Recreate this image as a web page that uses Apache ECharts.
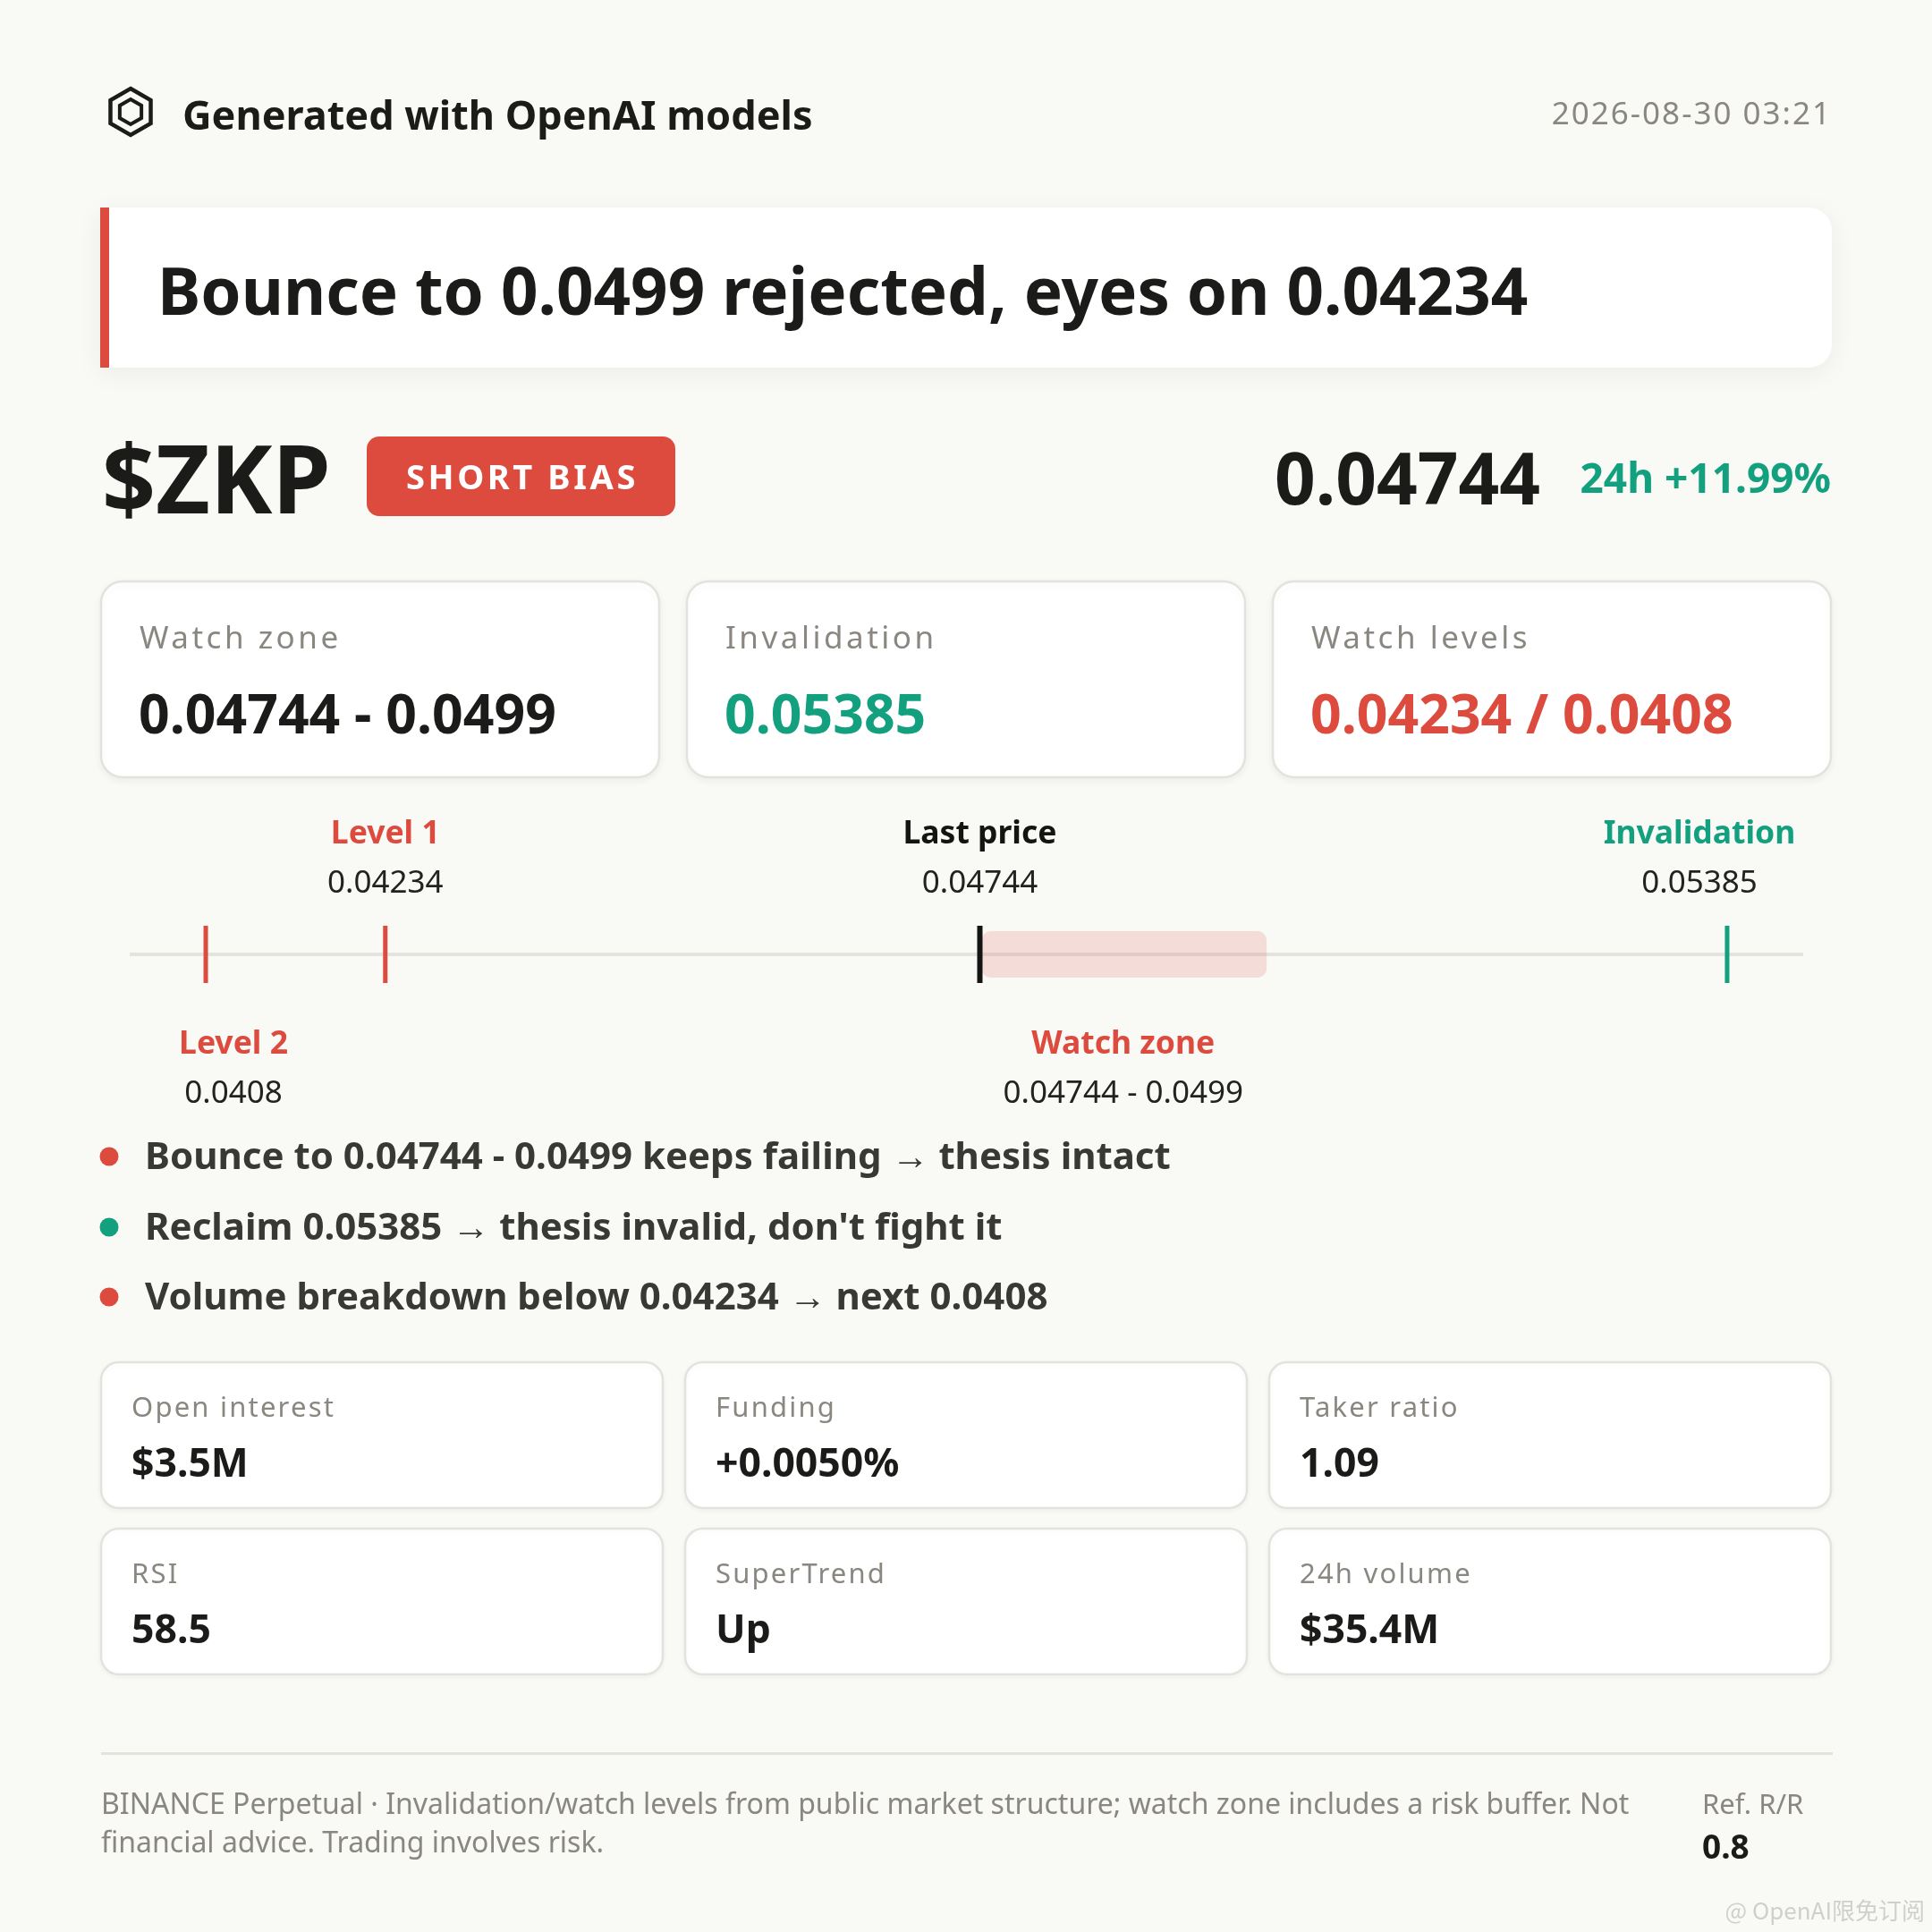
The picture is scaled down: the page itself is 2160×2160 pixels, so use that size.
<!DOCTYPE html>
<html><head><meta charset="utf-8">
<script src="https://cdn.jsdelivr.net/npm/echarts@6/dist/echarts.min.js"></script>
<style>html,body{margin:0;padding:0;background:#f9f9f6}#c{width:2160px;height:2160px}</style>
</head><body><div id="c"></div>
<script>
// ---------- data ----------
const titleText = 'Generated with OpenAI models';
const timestamp = '2026-08-30 03:21';
const headline = 'Bounce to 0.0499 rejected, eyes on 0.04234';
const ticker = '$ZKP';
const biasText = 'SHORT BIAS';
const lastPriceText = '0.04744';
const changeText = '24h +11.99%';
const cardLabels = ['Watch zone', 'Invalidation', 'Watch levels'];
const cardValues = ['0.04744 - 0.0499', '0.05385', '0.04234 / 0.0408'];
const cardKinds = ['neutral', 'bull', 'bear'];
const levelNames = ['Level 2', 'Level 1', 'Last price', 'Invalidation'];
const levelValues = [0.0408, 0.04234, 0.04744, 0.05385];
const levelKinds = ['bear', 'bear', 'neutral', 'bull'];
const watchZone = [0.04744, 0.0499];
const watchZoneName = 'Watch zone';
const bulletTexts = [
  'Bounce to 0.04744 - 0.0499 keeps failing \u2192 thesis intact',
  'Reclaim 0.05385 \u2192 thesis invalid, don\'t fight it',
  'Volume breakdown below 0.04234 \u2192 next 0.0408'
];
const bulletKinds = ['bear', 'bull', 'bear'];
const statLabels = ['Open interest', 'Funding', 'Taker ratio', 'RSI', 'SuperTrend', '24h volume'];
const statValues = ['$3.5M', '+0.0050%', '1.09', '58.5', 'Up', '$35.4M'];
const footerLines = [
  'BINANCE Perpetual \u00b7 Invalidation/watch levels from public market structure; watch zone includes a risk buffer. Not',
  'financial advice. Trading involves risk.'
];
const rrLabel = 'Ref. R/R';
const rrValue = '0.8';
const watermark = '@ OpenAI\u9650\u514d\u8ba2\u9605';

// ---------- letter spacing support for canvas text (marker family "LSPnn" = nn/10 px) ----------
(function () {
  const proto = CanvasRenderingContext2D.prototype;
  const orig = proto.fillText;
  proto.fillText = function (t, x, y, mw) {
    if ('letterSpacing' in this) {
      const m = /LSP(\d+)/.exec(this.font || '');
      this.letterSpacing = m ? (parseInt(m[1], 10) / 10) + 'px' : '0px';
    }
    return mw === undefined ? orig.call(this, t, x, y) : orig.call(this, t, x, y, mw);
  };
})();

// ---------- style ----------
const FONT = '"Noto Sans", "Open Sans", sans-serif';
const RED = '#dc4b3e', GREEN = '#12a07e', DARK = '#1b1b19', GRAY = '#8a8780';
const kindColor = k => k === 'bear' ? RED : (k === 'bull' ? GREEN : DARK);
const DY = 0.07; // cap-centre correction

function fam(ls) {
  return ls ? '"Noto Sans", "LSP' + Math.round(ls * 10) + '", sans-serif' : FONT;
}
function txt(x, y, text, size, weight, fill, align, ls, family) {
  return {
    type: 'text', x: x, y: y + size * DY, silent: true,
    style: {
      text: text, fill: fill,
      font: (weight || 'normal') + ' ' + size + 'px ' + (family || fam(ls)),
      align: align || 'left', verticalAlign: 'middle',
      textAlign: align || 'left', textVerticalAlign: 'middle'
    }
  };
}

const g = [];
function hex(cx, cy, r) {
  const pts = [];
  for (let i = 0; i < 6; i++) {
    const a = Math.PI / 180 * (60 * i - 90);
    pts.push([cx + r * Math.cos(a), cy + r * Math.sin(a)]);
  }
  return pts;
}
g.push({ type: 'polygon', shape: { points: hex(146, 125, 26) }, style: { fill: 'none', stroke: DARK, lineWidth: 4.5 } });
g.push({ type: 'polygon', shape: { points: hex(146, 125, 14) }, style: { fill: 'none', stroke: DARK, lineWidth: 4 } });
g.push(txt(204, 129, titleText, 45, 'bold', DARK));
g.push(txt(2048, 127, timestamp, 35, 'normal', GRAY, 'right', 2));

// headline box
g.push({ type: 'rect', shape: { x: 112, y: 232, width: 1936, height: 179, r: [0, 26, 26, 0] },
  style: { fill: '#ffffff', shadowBlur: 30, shadowColor: 'rgba(0,0,0,0.06)', shadowOffsetY: 6 } });
g.push({ type: 'rect', shape: { x: 112, y: 232, width: 10, height: 179 }, style: { fill: RED } });
g.push(txt(176, 326, headline, 72.7, 'bold', DARK));

// ticker row
g.push(txt(114, 537, ticker, 105, 'bold', DARK));
g.push({ type: 'rect', shape: { x: 410, y: 488, width: 345, height: 89, r: 14 }, style: { fill: RED } });
g.push(txt(584, 534, biasText, 38, 'bold', '#ffffff', 'center', 3.6));
g.push(txt(1722, 536, lastPriceText, 80, 'bold', DARK, 'right'));
g.push(txt(2047, 535, changeText, 46, 'bold', GREEN, 'right'));

// top cards
const cardX = [113, 768, 1423];
cardLabels.forEach((lab, i) => {
  g.push({ type: 'rect', shape: { x: cardX[i], y: 650, width: 624, height: 219, r: 24 },
    style: { fill: '#ffffff', stroke: '#e3e3de', lineWidth: 2.5, shadowBlur: 10, shadowColor: 'rgba(0,0,0,0.05)', shadowOffsetY: 3 } });
  g.push(txt(cardX[i] + 43, 713, lab, 35, 'normal', GRAY, 'left', 3.5));
  g.push(txt(cardX[i] + 42, 798, cardValues[i], 60.7, 'bold', kindColor(cardKinds[i])));
});

// bullets
const bulletY = [1293, 1372, 1450];
bulletTexts.forEach((t, i) => {
  g.push({ type: 'circle', shape: { cx: 122, cy: bulletY[i], r: 10.5 }, style: { fill: kindColor(bulletKinds[i]) } });
  g.push(txt(162, bulletY[i] - 1, t, 42, 'bold', '#383835'));
});

// stat cards
const statX = [113, 766, 1419];
const statY = [1523, 1709];
statLabels.forEach((lab, i) => {
  const x = statX[i % 3], y = statY[Math.floor(i / 3)];
  g.push({ type: 'rect', shape: { x: x, y: y, width: 628, height: 163, r: 20 },
    style: { fill: '#ffffff', stroke: '#e3e3de', lineWidth: 2.5, shadowBlur: 6, shadowColor: 'rgba(0,0,0,0.04)', shadowOffsetY: 2 } });
  g.push(txt(x + 34, y + 50, lab, 31, 'normal', GRAY, 'left', 2.2));
  g.push(txt(x + 34, y + 112, statValues[i], 44.5, 'bold', DARK));
});

// footer
g.push({ type: 'rect', shape: { x: 113, y: 1959, width: 1936, height: 3 }, style: { fill: '#e3e3de' } });
g.push(txt(113, 2017, footerLines[0], 32, 'normal', GRAY));
g.push(txt(113, 2060, footerLines[1], 32, 'normal', GRAY));
g.push(txt(1903, 2017, rrLabel, 31, 'normal', GRAY));
g.push(txt(1903, 2065, rrValue, 37, 'bold', DARK));
g.push(txt(2152, 2134, watermark, 26, 'normal', '#cfcfcc', 'right', 0, '"Noto Sans CJK SC", sans-serif'));

// ---------- level scale ----------
const lo = Math.min.apply(null, levelValues.concat(watchZone));
const hi = Math.max.apply(null, levelValues.concat(watchZone));
const pad = (hi - lo) * 0.05;
const axisMin = lo - pad, axisMax = hi + pad;
const LABEL_INSET = 116;

function clampX(api, x) {
  const x0 = api.coord([axisMin, 0.5])[0], x1 = api.coord([axisMax, 0.5])[0];
  return Math.min(Math.max(x, x0 + LABEL_INSET), x1 - LABEL_INSET);
}
function labelPair(x, above, name, value, color) {
  const yN = above ? 930 : 1165, yV = above ? 986 : 1221;
  const t1 = txt(x, yN, name, 35.5, 'bold', color, 'center');
  const t2 = txt(x, yV, value, 35, 'normal', '#222220', 'center');
  return [t1, t2];
}

const option = {
  backgroundColor: '#f9f9f6',
  animation: false,
  graphic: { elements: g },
  grid: { left: 145, right: 144, top: 1036, height: 62 },
  xAxis: { type: 'value', min: axisMin, max: axisMax, show: false },
  yAxis: { type: 'value', min: 0, max: 1, show: false },
  series: [
    {
      type: 'custom', name: 'track', clip: false, silent: true, z: 1,
      data: [[axisMin, axisMax]],
      encode: { x: [0, 1] },
      renderItem: (params, api) => {
        const a = api.coord([api.value(0), 0.5]), b = api.coord([api.value(1), 0.5]);
        return { type: 'rect', shape: { x: a[0], y: a[1] - 2, width: b[0] - a[0], height: 4 }, style: { fill: '#e4e4df' } };
      }
    },
    {
      type: 'custom', name: 'watch zone', clip: false, silent: true, z: 2,
      data: [watchZone],
      encode: { x: [0, 1] },
      renderItem: (params, api) => {
        const a = api.coord([api.value(0), 0.5]), b = api.coord([api.value(1), 0.5]);
        const cx = (a[0] + b[0]) / 2;
        return {
          type: 'group',
          children: [
            { type: 'rect', shape: { x: a[0] + 2, y: a[1] - 26, width: b[0] - a[0] - 2, height: 52, r: 10 }, style: { fill: 'rgba(220,75,62,0.16)' } }
          ].concat(labelPair(clampX(api, cx), false, watchZoneName, api.value(0) + ' - ' + api.value(1), RED))
        };
      }
    },
    {
      type: 'custom', name: 'levels', clip: false, silent: true, z: 3,
      data: levelValues.map((v, i) => [v, i]),
      encode: { x: 0 },
      renderItem: (params, api) => {
        const i = api.value(1);
        const p = api.coord([api.value(0), 0.5]);
        const kind = levelKinds[i];
        const color = kind === 'neutral' ? '#141413' : kindColor(kind);
        const above = levelNames[i] !== 'Level 2';
        return {
          type: 'group',
          children: [
            { type: 'rect', shape: { x: p[0] - (kind === 'neutral' ? 3 : 2.5), y: p[1] - 32, width: kind === 'neutral' ? 6 : 5, height: 64 }, style: { fill: color } }
          ].concat(labelPair(clampX(api, p[0]), above, levelNames[i], String(levelValues[i]), color))
        };
      }
    }
  ]
};

const chart = echarts.init(document.getElementById('c'), null, { renderer: 'canvas', width: 2160, height: 2160 });
chart.setOption(option);
</script>
</body></html>
